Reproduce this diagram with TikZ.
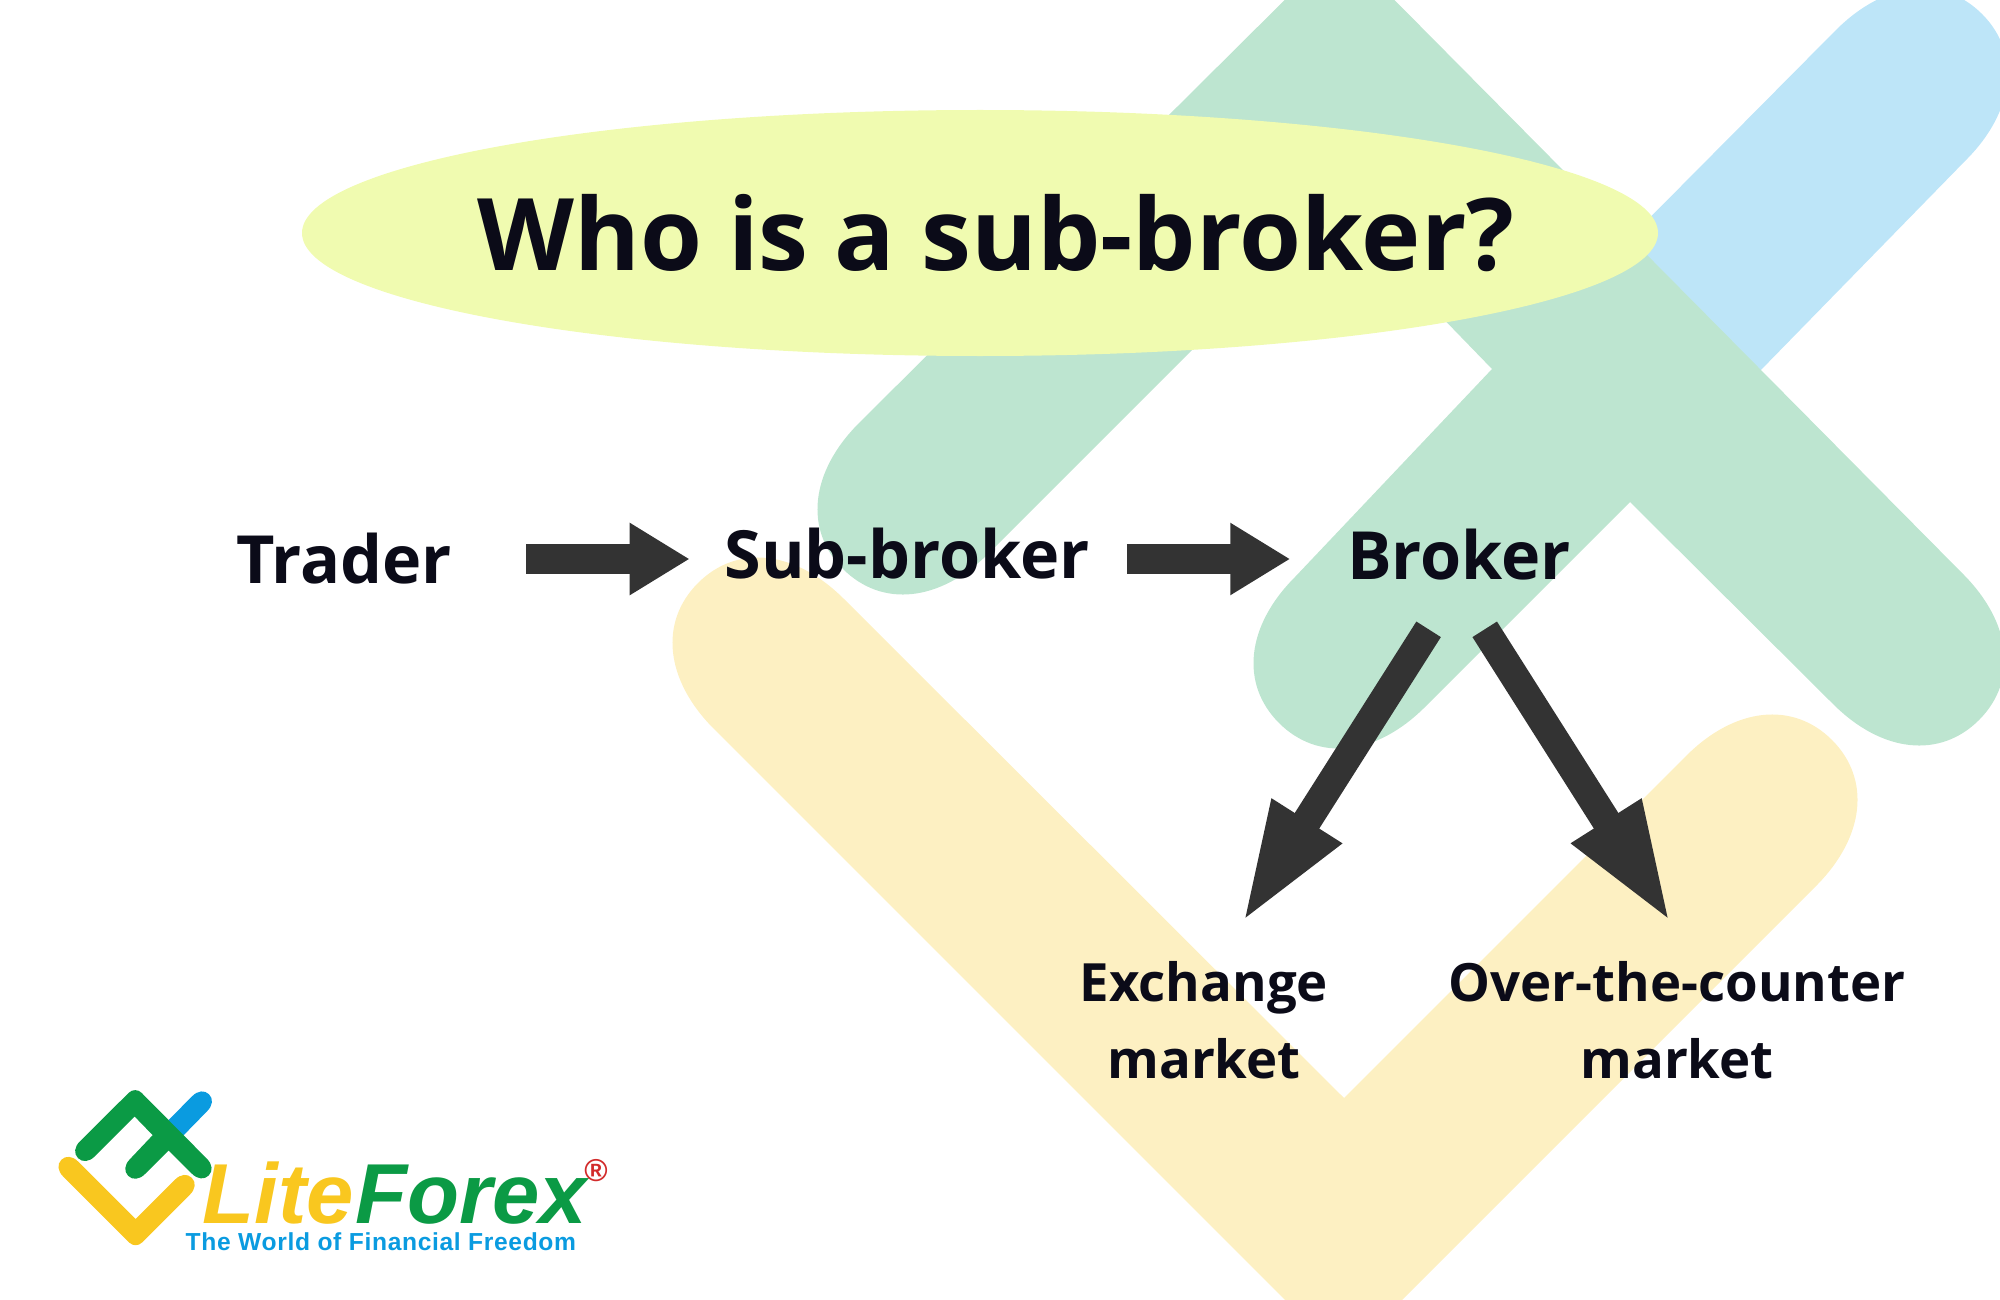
\documentclass[tikz,border=0pt]{standalone}
\usepackage{fontspec}
\usepackage{xcolor}
\setmainfont{Open Sans}
\newfontfamily\logofont{Liberation Sans}
\newfontfamily\sloganfont[LetterSpace=2.6]{Liberation Sans}
\usetikzlibrary{arrows.meta}
\definecolor{bggreen}{HTML}{BDE5D0}
\definecolor{bgyellow}{HTML}{FDF0C2}
\definecolor{bgblue}{HTML}{BDE5F8}
\definecolor{lfgreen}{HTML}{0B9A45}
\definecolor{lfyellow}{HTML}{F9C71F}
\definecolor{lfblue}{HTML}{0A9BE0}
\definecolor{lfred}{HTML}{D22B2B}
\definecolor{titlefill}{HTML}{F0FBB0}
\definecolor{inktext}{HTML}{0B0B18}
\definecolor{arrowgrey}{HTML}{333333}
% soft end of a bar: first corner x,y, then direction along the bar, then across it
\newcommand{\barend}[6]{-- (#1-81*#3,#2-81*#4) .. controls (#1-32*#3,#2-32*#4) and (#1+26*#5,#2+26*#6) .. (#1+65*#5,#2+65*#6) .. controls (#1+104*#5,#2+104*#6) and (#1+130*#5-32*#3,#2+130*#6-32*#4) .. (#1+130*#5-81*#3,#2+130*#6-81*#4)}
% the three bars of the mark, in picture pixels
\newcommand{\markbars}[4]{%
  \fill[#2] (1584,284) -- (1716,416) \barend{2047}{79}{1}{-1}{-1}{-1} -- cycle;
  \fill[#3] (1344,1098) \barend{1767}{675}{1}{-1}{1}{1} [rounded corners=#1] -- (1343.5,1358.5) [sharp corners] \barend{633}{648}{-1}{-1}{1}{-1} -- cycle;
  \fill[#4] (1335,207) \barend{908}{634}{-1}{1}{-1}{-1} [rounded corners=#1] -- (1340,-55) [sharp corners] \barend{2044}{655}{1}{1}{-1}{1} -- (1630,502) \barend{1344}{788}{-1}{1}{-1}{-1} -- (1492,369) -- cycle;
}
\begin{document}
\begin{tikzpicture}[x=0.01cm, y=-0.01cm,
    every node/.style={inner sep=0pt, text=inktext, align=center, font=\bfseries},
    fatarrow/.style={draw=arrowgrey, line width=0.30cm, -{Triangle[length=0.6cm, width=0.68cm]}},
    steeparrow/.style={draw=arrowgrey, line width=0.29cm, -{Triangle[length=1.23cm, width=0.74cm]}}
  ]
  \tikzset{
    headline/.style={font=\fontsize{28.5}{34}\selectfont\bfseries},
    actor/.style={font=\fontsize{18.9}{23}\selectfont\bfseries, text height=0.5cm, text depth=0.02cm},
    market/.style={font=\fontsize{15}{21.8}\selectfont\bfseries}
  }
  \useasboundingbox (0,0) rectangle (2000,1300);
  \clip (0,0) rectangle (2000,1300);
  \markbars{0.8cm}{bgblue}{bgyellow}{bggreen}
  \fill[titlefill] (980,233) ellipse [x radius=678, y radius=123];
  \node[headline] (title) at (996,233) {Who is a sub-broker?};
  \node[actor] (trader) at (344,559) {Trader};
  \node[actor] (subbroker) at (907,554) {Sub-broker};
  \node[actor] (broker) at (1459,555) {Broker};
  \node[market] (exchange) at (1204,1020) {Exchange\\market};
  \node[market] (otc) at (1677,1020) {Over-the-counter\\market};
  \draw[fatarrow] ([shift={(73.5,0)}]trader.east) -- ([shift={(-34,5)}]subbroker.west);
  \draw[fatarrow] ([shift={(36.5,5)}]subbroker.east) -- ([shift={(-56,4)}]broker.west);
  \draw[steeparrow] ([shift={(-30.4,47.6)}]broker.south) -- ([shift={(37,-36)}]exchange.north);
  \draw[steeparrow] ([shift={(25.7,47.6)}]broker.south) -- ([shift={(-5,-36)}]otc.north);
  % the small mark
  \begin{scope}[shift={(-18.9,1092.7)}, scale=0.115]
    \markbars{0.09cm}{lfblue}{lfyellow}{lfgreen}
  \end{scope}
  \node[font=\logofont\fontsize{24.2}{28}\selectfont\bfseries\itshape, text=lfyellow, anchor=base west] (lite) at (202,1223) {Lite};
  \node[font=\logofont\fontsize{24.2}{28}\selectfont\bfseries\itshape, text=lfgreen, anchor=base west] (forex) at (lite.base east) {Forex};
  \node[font=\logofont\fontsize{9}{10}\selectfont\bfseries, text=lfred] (reg) at (596,1171) {®};
  \node[font=\sloganfont\fontsize{7}{8}\selectfont\bfseries, text=lfblue, anchor=base west] (slogan) at (185,1250) {The World of Financial Freedom};
\end{tikzpicture}
\end{document}
